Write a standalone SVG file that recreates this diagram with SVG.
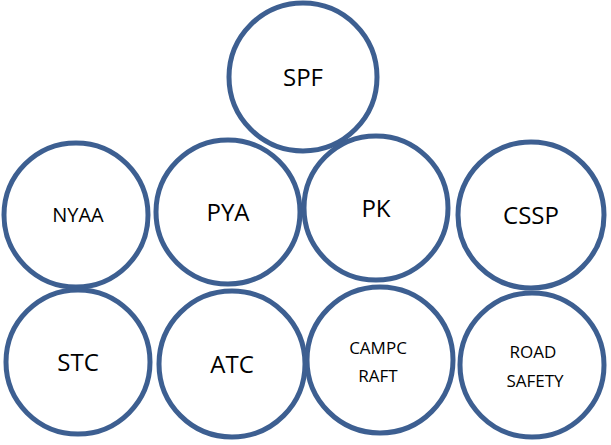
<svg xmlns="http://www.w3.org/2000/svg" width="611" height="445" viewBox="0 0 611 445">
<style>
circle{fill:#fff;stroke:#3d5f91;stroke-width:5}
text{font-family:"Open Sans","Liberation Sans",sans-serif;fill:#000;text-anchor:middle}
.l{font-size:24px}.m{font-size:20px}.s{font-size:17px}
</style>
<rect width="611" height="445" fill="#fff"/>
<g id="spf"><circle cx="303" cy="77" r="74"/><text class="l" x="303" y="86">SPF</text></g>
<g id="nyaa"><circle cx="76" cy="215" r="72"/><text class="m" x="78" y="222">NYAA</text></g>
<g id="pya"><circle cx="228" cy="212" r="72"/><text class="l" x="228" y="221">PYA</text></g>
<g id="pk"><circle cx="376" cy="208" r="72"/><text class="l" x="376" y="217">PK</text></g>
<g id="cssp"><circle cx="531" cy="215" r="73"/><text class="l" x="531" y="224">CSSP</text></g>
<g id="stc"><circle cx="78" cy="362" r="72"/><text class="l" x="78" y="371">STC</text></g>
<g id="atc"><circle cx="232" cy="364" r="73"/><text class="l" x="232" y="373">ATC</text></g>
<g id="campc"><circle cx="380" cy="360" r="73"/><text class="s" x="378" y="354">CAMPC</text><text class="s" x="378" y="382">RAFT</text></g>
<g id="road"><circle cx="532" cy="365" r="72"/><text class="s" x="533" y="358">ROAD</text><text class="s" x="535" y="387">SAFETY</text></g>
<g id="connectors"></g>
</svg>
